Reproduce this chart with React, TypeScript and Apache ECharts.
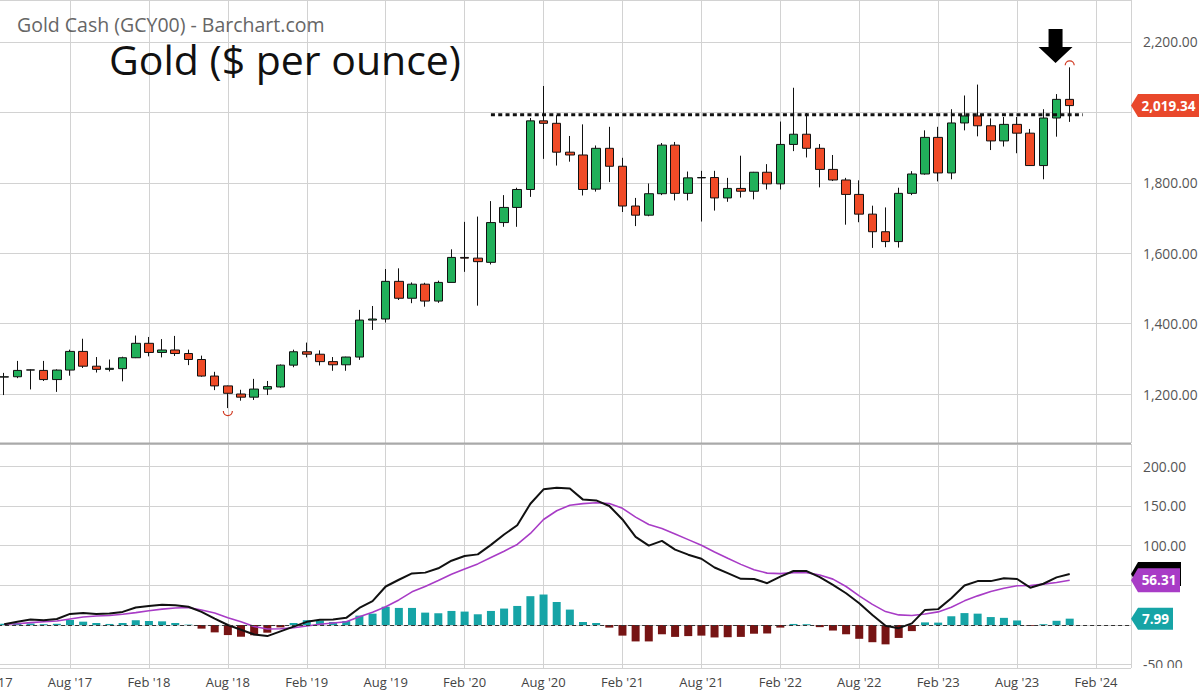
import React, { useEffect, useRef } from "react";
import * as echarts from "echarts";

// ---------- DATA ----------
const MONTHS: string[] = [
  "2017-03", "2017-04", "2017-05", "2017-06", "2017-07", "2017-08", "2017-09", "2017-10", "2017-11", "2017-12",
  "2018-01", "2018-02", "2018-03", "2018-04", "2018-05", "2018-06", "2018-07", "2018-08", "2018-09", "2018-10", "2018-11", "2018-12",
  "2019-01", "2019-02", "2019-03", "2019-04", "2019-05", "2019-06", "2019-07", "2019-08", "2019-09", "2019-10", "2019-11", "2019-12",
  "2020-01", "2020-02", "2020-03", "2020-04", "2020-05", "2020-06", "2020-07", "2020-08", "2020-09", "2020-10", "2020-11", "2020-12",
  "2021-01", "2021-02", "2021-03", "2021-04", "2021-05", "2021-06", "2021-07", "2021-08", "2021-09", "2021-10", "2021-11", "2021-12",
  "2022-01", "2022-02", "2022-03", "2022-04", "2022-05", "2022-06", "2022-07", "2022-08", "2022-09", "2022-10", "2022-11", "2022-12",
  "2023-01", "2023-02", "2023-03", "2023-04", "2023-05", "2023-06", "2023-07", "2023-08", "2023-09", "2023-10", "2023-11", "2023-12",
];

const OPEN: number[] = [
  1248, 1249, 1268, 1267, 1241, 1268, 1321, 1279, 1270, 1272,
  1303, 1344, 1318, 1325, 1315, 1298, 1251, 1223, 1200, 1191, 1214, 1220,
  1282, 1320, 1313, 1292, 1283, 1305, 1410, 1413, 1520, 1472, 1512, 1464,
  1517, 1588, 1586, 1574, 1687, 1730, 1781, 1976, 1969, 1887, 1879, 1782,
  1898, 1847, 1734, 1708, 1769, 1907, 1770, 1814, 1815, 1757, 1784, 1776,
  1830, 1797, 1909, 1938, 1898, 1838, 1808, 1767, 1711, 1661, 1633, 1770,
  1825, 1929, 1828, 1970, 1990, 1962, 1919, 1966, 1941, 1849, 1984, 2037,
];
const CLOSE: number[] = [
  1249, 1267, 1268.5, 1241, 1268, 1321, 1279, 1270, 1273, 1303,
  1344, 1318, 1325, 1315, 1298, 1251, 1223, 1202, 1191, 1214, 1221, 1282,
  1320, 1313, 1292, 1283, 1305, 1410, 1413, 1520, 1472, 1512, 1464, 1517,
  1588, 1586, 1576, 1687, 1730, 1781, 1976, 1969, 1887, 1879, 1781, 1898,
  1847, 1734, 1708, 1769, 1907, 1770, 1814, 1815, 1757, 1784, 1776, 1830,
  1797, 1909, 1938, 1898, 1838, 1808, 1767, 1711, 1661, 1633, 1770, 1825,
  1929, 1828, 1970, 1990, 1962, 1919, 1966, 1941, 1849, 1984, 2037, 2019.34,
];
const LOW: number[] = [
  1197, 1245, 1213, 1237, 1206, 1252, 1274, 1261, 1264, 1236,
  1302, 1307, 1304, 1308, 1282, 1249, 1211, 1160, 1181, 1183, 1197, 1218,
  1276, 1304, 1281, 1266, 1266, 1297, 1382, 1403, 1467, 1458, 1448, 1459,
  1517, 1547, 1451, 1568, 1675, 1675, 1760, 1868, 1849, 1860, 1764, 1775,
  1802, 1717, 1677, 1705, 1765, 1750, 1750, 1690, 1721, 1746, 1758, 1753,
  1781, 1781, 1890, 1872, 1787, 1805, 1681, 1688, 1615, 1617, 1616, 1765,
  1823, 1804, 1810, 1949, 1932, 1893, 1903, 1884, 1848, 1810, 1931, 1973,
];
const HIGH: number[] = [
  1260, 1294, 1270, 1294, 1270, 1326, 1357, 1305, 1298, 1306,
  1366, 1362, 1356, 1365, 1326, 1309, 1263, 1224, 1212, 1243, 1237, 1284,
  1326, 1346, 1324, 1305, 1306, 1439, 1450, 1555, 1557, 1517, 1516, 1522,
  1611, 1689, 1704, 1748, 1765, 1786, 1984, 2075, 1992, 1933, 1966, 1906,
  1959, 1871, 1757, 1798, 1913, 1916, 1832, 1834, 1834, 1814, 1877, 1831,
  1853, 1974, 2070, 1998, 1910, 1879, 1814, 1807, 1735, 1730, 1786, 1833,
  1949, 1959, 2009, 2048, 2079, 1983, 1987, 1987, 1953, 2009, 2052, 2128,
];

const MACD: number[] = [
  1, 4, 7, 6, 7.5, 14, 15, 14, 14.5, 16.5,
  22, 24, 25.5, 25, 23, 16.5, 8, 0, -6, -12, -14, -8,
  -2, 4, 6.5, 7, 9, 21.5, 30, 48.5, 57, 65, 66, 71.5,
  81, 87, 89, 101, 114, 125.7, 152.8, 171, 173, 172, 158, 157,
  150, 133, 111, 100, 106, 95, 88.6, 83.5, 72.5, 65.4, 58.2, 58,
  52.7, 61, 68, 68, 60.3, 50.6, 40, 27.4, 12.7, -1, -4, 2,
  19, 20, 33.7, 49.8, 55.3, 55.3, 59, 58, 47, 52, 60, 64.3,
];
const SIGNAL: number[] = [
  1, 1.5, 3, 4, 5, 7.6, 10, 11.4, 12, 13.5,
  15.6, 18, 20, 21.5, 22, 19, 15, 9, 4, -2, -5, -4.8,
  -3.4, -1.3, 1, 2.5, 4, 10.5, 16, 23, 31.6, 41.8, 48.5, 56,
  64, 70.7, 77, 85, 93, 101.5, 115.4, 133, 144, 151, 153, 154,
  153, 147, 136, 126.6, 121.5, 114.8, 107.6, 100.4, 92, 84, 76.4, 69.6,
  65.4, 64.7, 66, 66, 62.9, 57.8, 48.5, 36.7, 26, 16.9, 12.7, 12,
  13.9, 16.5, 22.4, 30.4, 36.7, 42.2, 46.4, 49.4, 49.8, 51.5, 53.6, 56.31,
];
const HIST: number[] = [
  1.5, 2.5, 2, 1, 1.5, 6.3, 4.2, 2.5, 1.3, 2.5,
  6, 5, 4.6, 2.5, 0.5, -4.6, -9.3, -12.7, -14.8, -13, -9.7, -3,
  2.5, 6, 5.5, 3.8, 5, 11.8, 14.3, 23, 21.5, 21.5, 15.6, 14.8,
  17.7, 16.9, 13.5, 17.7, 20.7, 24, 36.3, 38.4, 29, 19.4, 3.8, 2.5,
  -3.3, -13.4, -20.7, -20.7, -11.7, -15, -14, -13.4, -15.7, -15.4, -15, -11,
  -10.7, -3.3, 1.3, 1, -2.7, -7, -11.7, -17.4, -21.7, -24.4, -16.3, -7.7,
  3.3, 3, 11, 15, 14.3, 10, 9, 5.7, -1, 1, 5.3, 7.99,
];

const X_TICK_LABELS: string[] = [
  "Feb '17", "Aug '17", "Feb '18", "Aug '18", "Feb '19", "Aug '19", "Feb '20", "Aug '20",
  "Feb '21", "Aug '21", "Feb '22", "Aug '22", "Feb '23", "Aug '23", "Feb '24",
];

const RESISTANCE_LEVEL = 1993;
const RESISTANCE_FROM = "2020-04";
const RESISTANCE_TO = "2024-01";
const ARROW_MONTH = "2023-11";

const SUBTITLE = "Gold Cash (GCY00) - Barchart.com";
const TITLE = "Gold ($ per ounce)";

// ---------- STYLE ----------
const GREEN = "#21b05a";
const RED = "#f04b27";
const TEAL = "#16a4a6";
const DARKRED = "#761414";
const PURPLE = "#a83cc6";
const TAG_RED = "#e9482b";
const GRIDC = "#d2d2d2";
const FONT = "'Open Sans', 'Noto Sans', sans-serif";

// months since Feb 2017
const toU = (m: string) => {
  const [y, mo] = m.split("-").map(Number);
  return (y - 2017) * 12 + (mo - 2);
};

const fmt2 = (v: number) =>
  v.toLocaleString("en-US", { minimumFractionDigits: 2, maximumFractionDigits: 2 });

const isMult = (v: number, k: number) => Math.abs(v / k - Math.round(v / k)) < 1e-6;

const X_MIN = 0;
const X_MAX = 86.66;
const GRID_LEFT = -8.92;
const GRID_RIGHT = 69;

const N = MONTHS.length;
const LAST_CLOSE = CLOSE[N - 1];
const LAST_MACD = MACD[N - 1];
const LAST_SIGNAL = SIGNAL[N - 1];
const LAST_HIST = HIST[N - 1];

export default function App() {
  const ref = useRef<HTMLDivElement>(null);
  useEffect(() => {
    document.body.style.margin = "0";
    const chart = echarts.init(ref.current!, null, { renderer: "svg", width: 1200, height: 696 });

    const xCommon = (gridIndex: number, showLabel: boolean) => ({
      type: "value" as const,
      gridIndex,
      min: X_MIN,
      max: X_MAX,
      minInterval: 6,
      maxInterval: 6,
      axisLine: { show: false },
      axisTick: { show: false },
      splitLine: { show: true, lineStyle: { color: GRIDC, width: 1 } },
      axisLabel: {
        show: showLabel,
        color: "#444",
        fontSize: 13,
        fontFamily: FONT,
        margin: 7,
        showMinLabel: true,
        showMaxLabel: true,
        formatter: (v: number) => (isMult(v, 6) ? X_TICK_LABELS[Math.round(v / 6)] ?? "" : ""),
      },
    });

    const option: any = {
      animation: false,
      backgroundColor: "#ffffff",
      grid: [
        { left: GRID_LEFT, right: GRID_RIGHT, top: 0, height: 443, containLabel: false, outerBoundsMode: "none" },
        { left: GRID_LEFT, right: GRID_RIGHT, top: 444, height: 224, containLabel: false, outerBoundsMode: "none" },
      ],
      xAxis: [xCommon(0, false), xCommon(1, true)],
      yAxis: [
        {
          type: "value",
          gridIndex: 0,
          position: "right",
          min: 1060.8,
          max: 2319.3,
          minInterval: 200,
          maxInterval: 200,
          axisLine: { show: false },
          axisTick: { show: false },
          splitLine: { show: true, lineStyle: { color: GRIDC, width: 1 } },
          axisLabel: {
            color: "#555",
            fontSize: 13.8,
            fontFamily: FONT,
            margin: 12,
            // the label hidden behind the price tag is not drawn
            formatter: (v: number) =>
              isMult(v, 200) && Math.abs(v - LAST_CLOSE) > 35 ? fmt2(v) : "",
          },
        },
        {
          type: "value",
          gridIndex: 1,
          position: "right",
          min: -54.2,
          max: 228.1,
          minInterval: 50,
          maxInterval: 50,
          axisLine: { show: false },
          axisTick: { show: false },
          splitLine: { show: true, lineStyle: { color: GRIDC, width: 1 } },
          axisLabel: {
            color: "#555",
            fontSize: 13.8,
            fontFamily: FONT,
            margin: 12,
            formatter: (v: number) =>
              isMult(v, 50) &&
              Math.abs(v - LAST_SIGNAL) > 16 &&
              Math.abs(v - LAST_MACD) > 16 &&
              Math.abs(v - LAST_HIST) > 16
                ? fmt2(v)
                : "",
          },
        },
      ],
      series: [
        {
          type: "candlestick",
          xAxisIndex: 0,
          yAxisIndex: 0,
          barWidth: 9,
          clip: false,
          encode: { x: 0, y: [1, 2, 3, 4] },
          data: MONTHS.map((m, i) => [toU(m), OPEN[i], CLOSE[i], LOW[i], HIGH[i]]),
          itemStyle: {
            color: GREEN,
            color0: RED,
            borderColor: "#111",
            borderColor0: "#111",
            borderWidth: 1,
          },
        },
        {
          type: "line",
          xAxisIndex: 0,
          yAxisIndex: 0,
          symbol: "none",
          silent: true,
          data: [
            [toU(RESISTANCE_FROM), RESISTANCE_LEVEL],
            [toU(RESISTANCE_TO), RESISTANCE_LEVEL],
          ],
          lineStyle: { color: "#111", width: 3, type: [4, 3.3] },
          z: 5,
        },
        {
          type: "bar",
          xAxisIndex: 1,
          yAxisIndex: 1,
          barWidth: 8,
          data: MONTHS.map((m, i) => [toU(m), HIST[i]]),
          itemStyle: {
            color: (p: any) => (p.value[1] >= 0 ? TEAL : DARKRED),
          },
          markLine: {
            silent: true,
            symbol: "none",
            label: { show: false },
            lineStyle: { color: "#333", width: 1, type: [4, 3] },
            data: [{ yAxis: 0 }],
          },
        },
        {
          type: "line",
          xAxisIndex: 1,
          yAxisIndex: 1,
          symbol: "none",
          data: MONTHS.map((m, i) => [toU(m), SIGNAL[i]]),
          lineStyle: { color: PURPLE, width: 1.6 },
          z: 3,
        },
        {
          type: "line",
          xAxisIndex: 1,
          yAxisIndex: 1,
          symbol: "none",
          data: MONTHS.map((m, i) => [toU(m), MACD[i]]),
          lineStyle: { color: "#111", width: 2 },
          z: 4,
        },
      ],
    };
    chart.setOption(option);

    const px0 = (u: number, v: number) => chart.convertToPixel({ gridIndex: 0 } as any, [u, v]) as number[];
    const px1 = (u: number, v: number) => chart.convertToPixel({ gridIndex: 1 } as any, [u, v]) as number[];

    const rightEdge = px0(X_MAX, 2000)[0];

    const tag = (yc: number, w: number, h: number, fill: string, text: string, z: number) => ({
      type: "group",
      z,
      children: [
        {
          type: "polygon",
          shape: {
            points: [
              [rightEdge, yc],
              [rightEdge + 7, yc - h / 2],
              [rightEdge + w, yc - h / 2],
              [rightEdge + w, yc + h / 2],
              [rightEdge + 7, yc + h / 2],
            ],
          },
          style: { fill },
          z,
        },
        {
          type: "text",
          x: rightEdge + 7 + (w - 7) / 2,
          y: yc,
          style: {
            text,
            fill: "#fff",
            font: `bold 13.5px ${FONT}`,
            lineHeight: 14,
            align: "center",
            verticalAlign: "middle",
          },
          z: z + 1,
        },
      ],
    });

    // extremes markers
    let iMin = 0;
    let iMax = 0;
    for (let i = 0; i < N; i++) {
      if (LOW[i] < LOW[iMin]) iMin = i;
      if (HIGH[i] > HIGH[iMax]) iMax = i;
    }
    const lowPt = px0(toU(MONTHS[iMin]), LOW[iMin]);
    const highPt = px0(toU(MONTHS[iMax]), HIGH[iMax]);

    const arrowX = px0(toU(ARROW_MONTH), 2000)[0] - 1;

    const yClose = px0(0, LAST_CLOSE)[1];
    const yMacd = px1(0, LAST_MACD)[1];
    const ySig = px1(0, LAST_SIGNAL)[1];
    const yHist = px1(0, LAST_HIST)[1];

    chart.setOption({
      graphic: [
        {
          type: "text",
          x: 17,
          y: 24,
          style: {
            text: SUBTITLE,
            fill: "#666",
            font: `19.5px ${FONT}`,
            lineHeight: 20,
            verticalAlign: "middle",
          },
          z: 50,
        },
        {
          type: "text",
          x: 109,
          y: 59,
          style: {
            text: TITLE,
            fill: "#111",
            font: `41px ${FONT}`,
            lineHeight: 41,
            verticalAlign: "middle",
          },
          z: 50,
        },
        // panel separator
        {
          type: "line",
          shape: { x1: 0, y1: 443.5, x2: rightEdge, y2: 443.5 },
          style: { stroke: "#a9a9a9", lineWidth: 2 },
          z: 40,
        },
        // arrow
        {
          type: "polygon",
          shape: {
            points: [
              [arrowX - 7, 29],
              [arrowX + 7, 29],
              [arrowX + 7, 47],
              [arrowX + 17, 47],
              [arrowX, 63],
              [arrowX - 17, 47],
              [arrowX - 7, 47],
            ],
          },
          style: { fill: "#000" },
          z: 60,
        },
        // extreme arcs
        {
          type: "arc",
          shape: { cx: lowPt[0], cy: lowPt[1] + 3, r: 4.5, startAngle: 0, endAngle: Math.PI, clockwise: true },
          style: { stroke: "#d0371f", lineWidth: 1.2, fill: "none" },
          z: 60,
        },
        {
          type: "arc",
          shape: { cx: highPt[0], cy: highPt[1] - 2, r: 4.5, startAngle: Math.PI, endAngle: Math.PI * 2, clockwise: true },
          style: { stroke: "#d0371f", lineWidth: 1.2, fill: "none" },
          z: 60,
        },
        // clip of bottom-right label
        {
          type: "rect",
          shape: { x: rightEdge + 1, y: 668, width: 1200 - rightEdge, height: 28 },
          style: { fill: "#fff" },
          z: 70,
        },
        tag(yClose, 68, 23, TAG_RED, fmt2(LAST_CLOSE), 80),
        tag(yMacd, 50, 24, "#000", fmt2(LAST_MACD), 80),
        tag(ySig, 49, 24, PURPLE, fmt2(LAST_SIGNAL), 84),
        tag(yHist, 42, 22, TEAL, fmt2(LAST_HIST), 88),
      ],
    });

    return () => chart.dispose();
  }, []);

  return (
    <div
      ref={ref}
      style={{ position: "absolute", left: 0, top: 0, width: 1200, height: 696, background: "#fff" }}
    />
  );
}
